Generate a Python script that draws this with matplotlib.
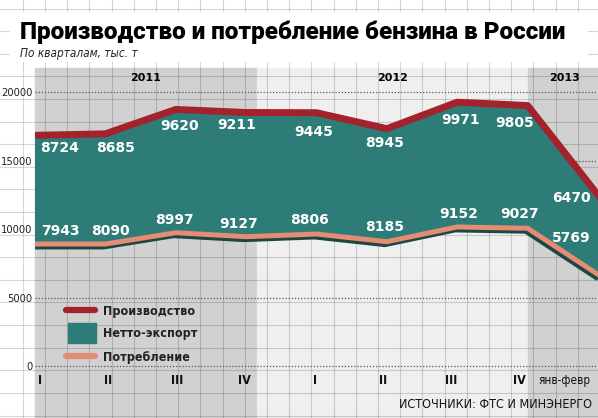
import matplotlib
matplotlib.use('Agg')
import matplotlib.pyplot as plt
import matplotlib.transforms as mtransforms
from matplotlib.patches import Rectangle
from matplotlib import font_manager
import numpy as np

# data (тыс. т), line levels, labels as printed
quarters = ['I', 'II', 'III', 'IV', 'I', 'II', 'III', 'IV', 'янв-февр']
years = ['2011', '2012', '2013']
production = [16860, 16970, 18750, 18525, 18510, 17345, 19280, 19035, 12500]
consumption = [8925, 8925, 9750, 9460, 9655, 9095, 10170, 10075, 6700]
export_labels = [8724, 8685, 9620, 9211, 9445, 8945, 9971, 9805, 6470]
consumption_labels = [7943, 8090, 8997, 9127, 8806, 8185, 9152, 9027, 5769]
yticks = [0, 5000, 10000, 15000, 20000]

# colours
RED = '#a3222b'
TEAL = '#2e7c77'
TEAL_DARK = '#1c4744'
SALMON = '#e48c74'
BAND_DARK = '#d1d1d1'
BAND_LIGHT = '#efefef'

names = {f.name for f in font_manager.fontManager.ttflist}
narrow = 'Liberation Sans Narrow' if 'Liberation Sans Narrow' in names else 'DejaVu Sans'
narrow_kw = dict(family=narrow)
if narrow == 'DejaVu Sans':
    narrow_kw['fontstretch'] = 'condensed'

fig = plt.figure(figsize=(5.98, 4.18), dpi=100)

# background in pixel coordinates
bg = fig.add_axes([0, 0, 1, 1])
bg.set_xlim(0, 598)
bg.set_ylim(418, 0)
bg.axis('off')

bg.add_patch(Rectangle((35, 68), 222, 350, color=BAND_DARK, zorder=0))
bg.add_patch(Rectangle((257, 68), 271, 350, color=BAND_LIGHT, zorder=0))
bg.add_patch(Rectangle((528, 68), 70, 350, color=BAND_DARK, zorder=0))

# graph-paper grid, snapped to pixel centres
for gx in np.arange(22.3, 598, 22.2):
    gx = np.floor(gx) + 0.5
    bg.plot([gx, gx], [0, 418], color=(0, 0, 0, 0.16), lw=0.8, zorder=1)
for gy in np.arange(415, 0, -22.6):
    gy = np.floor(gy) + 0.5
    bg.plot([0, 598], [gy, gy], color=(0, 0, 0, 0.16), lw=0.8, zorder=1)

# title box
bg.add_patch(Rectangle((10, 12), 578, 50, facecolor='white', edgecolor='none', zorder=2))
title = bg.text(20, 38.5, 'Производство и потребление бензина в России',
                fontsize=18, fontweight='heavy', family='Roboto',
                ha='left', va='baseline', zorder=3)
fig.canvas.draw()
w = title.get_window_extent().width
title.set_fontsize(18 * 547 / w)
bg.text(20, 57.5, 'По кварталам, тыс. т', fontsize=8.5, style='italic',
        color='#222222', ha='left', va='baseline', zorder=3, **narrow_kw)

for name, xp in zip(years, [146, 393, 565]):
    bg.text(xp, 78, name, fontsize=8, fontweight='bold', ha='center', va='center', zorder=3)

# legend
bg.plot([66, 95], [310, 310], color=RED, lw=4.5, solid_capstyle='round', zorder=3)
bg.add_patch(Rectangle((68, 323), 28, 20, color=TEAL, zorder=3))
bg.plot([66, 95], [356, 356], color=SALMON, lw=4.5, solid_capstyle='round', zorder=3)
legend_names = ['Производство', 'Нетто-экспорт', 'Потребление']
for name, yp in zip(legend_names, [312, 334, 357]):
    bg.text(103, yp, name, fontsize=9, fontweight='bold', color='#222222',
            ha='left', va='center', zorder=3, **narrow_kw)

bg.text(592, 408, 'ИСТОЧНИКИ: ФТС И МИНЭНЕРГО', fontsize=9, color='#111111',
        ha='right', va='baseline', zorder=3, **narrow_kw)

# data axes
ax = fig.add_axes([35 / 598, 0, 1 - 35 / 598, 350 / 418])
ax.patch.set_alpha(0)
ax.set_xlim(0, 8)
ax.set_ylim(-3774, 21774)
for s in ax.spines.values():
    s.set_visible(False)

x = np.arange(len(quarters))

ax.set_yticks(yticks)
ax.set_yticklabels([str(v) for v in yticks], fontsize=8, color='#222222', **narrow_kw)
ax.tick_params(axis='y', length=0, pad=2)
ax.set_xticks([])
ax.yaxis.grid(True, linestyle=(0, (1, 1.5)), color='#555555', lw=0.9)
ax.set_axisbelow(True)

shadow = mtransforms.offset_copy(ax.transData, fig=fig, x=-2, y=-3, units='dots')
ax.fill_between(x, production, consumption, color=TEAL_DARK, transform=shadow, zorder=2)
ax.fill_between(x, production, consumption, color=TEAL, zorder=3)
ax.plot(x, consumption, color=TEAL_DARK, lw=3.5, transform=shadow, zorder=4)
ax.plot(x, consumption, color=SALMON, lw=3.6, zorder=5)
ax.plot(x, production, color=RED, lw=5, zorder=5)

export_offsets = [(25, -13), (10, -14), (4, -17), (-9, -12), (-3, -19),
                  (-2, -14), (3, -18), (-13, -17), (-27, -3)]
cons_offsets = [(25, 13), (5, 13), (-1, 13), (-7, 13), (-7, 14),
                (-2, 15), (1, 13), (-8, 14), (-27, 37)]
for i in x:
    ax.annotate(str(export_labels[i]), (i, production[i]), xytext=export_offsets[i],
                textcoords='offset pixels', ha='center', va='center', color='white',
                fontsize=10, fontweight='bold', zorder=6)
    ax.annotate(str(consumption_labels[i]), (i, consumption[i]), xytext=cons_offsets[i],
                textcoords='offset pixels', ha='center', va='center', color='white',
                fontsize=10, fontweight='bold', zorder=6)

# quarter labels under the plot
label_x = [0.07, 1.04, 2.02, 2.98, 3.98, 4.94, 5.92, 6.88, 7.53]
tr = mtransforms.blended_transform_factory(ax.transData, ax.transAxes)
for q, lx in zip(quarters, label_x):
    ax.text(lx, 0.106, q, transform=tr, ha='center', va='center',
            fontsize=9 if len(q) < 5 else 8.5,
            fontweight='bold' if len(q) < 5 else 'normal', color='#111111', **narrow_kw)

fig.savefig('out.png', dpi=100)
